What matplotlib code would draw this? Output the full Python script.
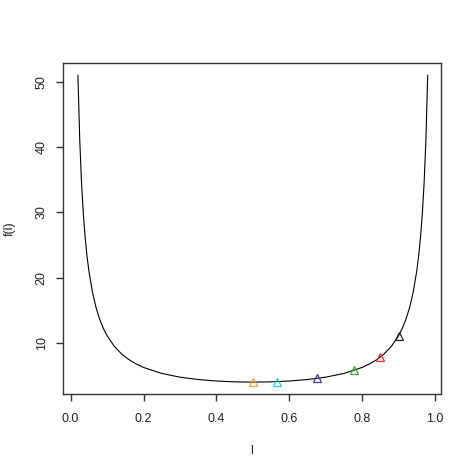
import matplotlib
matplotlib.use("Agg")
import matplotlib.pyplot as plt
from matplotlib import font_manager as fm
import os

# pick the regular (non-narrow) Liberation Sans file
fname = None
for f in fm.findSystemFonts():
    if os.path.basename(f).lower() == 'liberationsans-regular.ttf':
        fname = f
        break
if fname:
    fm.fontManager.addfont(fname)
    fam = fm.FontProperties(fname=fname).get_name()
else:
    fam = 'Liberation Sans'
plt.rcParams['font.family'] = [fam, 'DejaVu Sans']

# curve values
l_vals = [0.02, 0.025, 0.03, 0.035, 0.04, 0.045, 0.05, 0.06, 0.07, 0.08, 0.09,
          0.10, 0.12, 0.14, 0.16, 0.18, 0.20, 0.25, 0.30, 0.35, 0.40, 0.45,
          0.50, 0.55, 0.60, 0.65, 0.70, 0.75, 0.80, 0.82, 0.84, 0.86, 0.88,
          0.90, 0.91, 0.92, 0.93, 0.94, 0.95, 0.955, 0.96, 0.965, 0.97,
          0.975, 0.98]
f_vals = [51.02, 41.03, 34.36, 29.61, 26.04, 23.27, 21.05, 17.73, 15.36, 13.59,
          12.21, 11.11, 9.47, 8.31, 7.44, 6.78, 6.25, 5.33, 4.76, 4.40, 4.17,
          4.04, 4.00, 4.04, 4.17, 4.40, 4.76, 5.33, 6.25, 6.78, 7.44, 8.31,
          9.47, 11.11, 12.21, 13.59, 15.36, 17.73, 21.05, 23.27, 26.04, 29.61,
          34.36, 41.03, 51.02]

# triangle markers
pt_l = [0.50, 0.565, 0.677, 0.778, 0.85, 0.90]
pt_f = [4.00, 4.07, 4.63, 5.80, 7.84, 11.11]
pt_colors = ['#e8a838', '#33cccc', '#3a3aa0', '#44a844', '#dd3333', '#222222']

x_ticks = [0.0, 0.2, 0.4, 0.6, 0.8, 1.0]
x_tick_labels = ['0.0', '0.2', '0.4', '0.6', '0.8', '1.0']
y_ticks = [10, 20, 30, 40, 50]
y_tick_labels = ['10', '20', '30', '40', '50']

fig = plt.figure(figsize=(4.74, 4.73), dpi=100)
ax = fig.add_axes([63/474, 1 - 394/473, (441 - 63)/474, (394 - 63)/473])

ax.plot(l_vals, f_vals, color='black', linewidth=0.8)
for x, y, c in zip(pt_l, pt_f, pt_colors):
    ax.plot([x], [y], marker='^', markersize=6, markerfacecolor='none',
            markeredgecolor=c, markeredgewidth=0.9, linestyle='none')

ax.set_xlim(-0.021, 1.0165)
ax.set_ylim(2.18, 52.91)
ax.set_xticks(x_ticks)
ax.set_xticklabels(x_tick_labels)
ax.set_yticks(y_ticks)
ax.set_yticklabels(y_tick_labels, rotation=90, va='center')

for s in ax.spines.values():
    s.set_color('#333333')
    s.set_linewidth(1.0)
ax.tick_params(direction='out', length=5.2, width=1.0, color='#333333',
               labelsize=9, labelcolor='#222222')
ax.tick_params(axis='x', pad=8.2)
ax.tick_params(axis='y', pad=5.9)

ax.set_xlabel('l', fontsize=9, labelpad=15, color='#222222')
ax.set_ylabel('f(l)', fontsize=9, labelpad=14, color='#222222')

fig.savefig('out.png', dpi=100)
